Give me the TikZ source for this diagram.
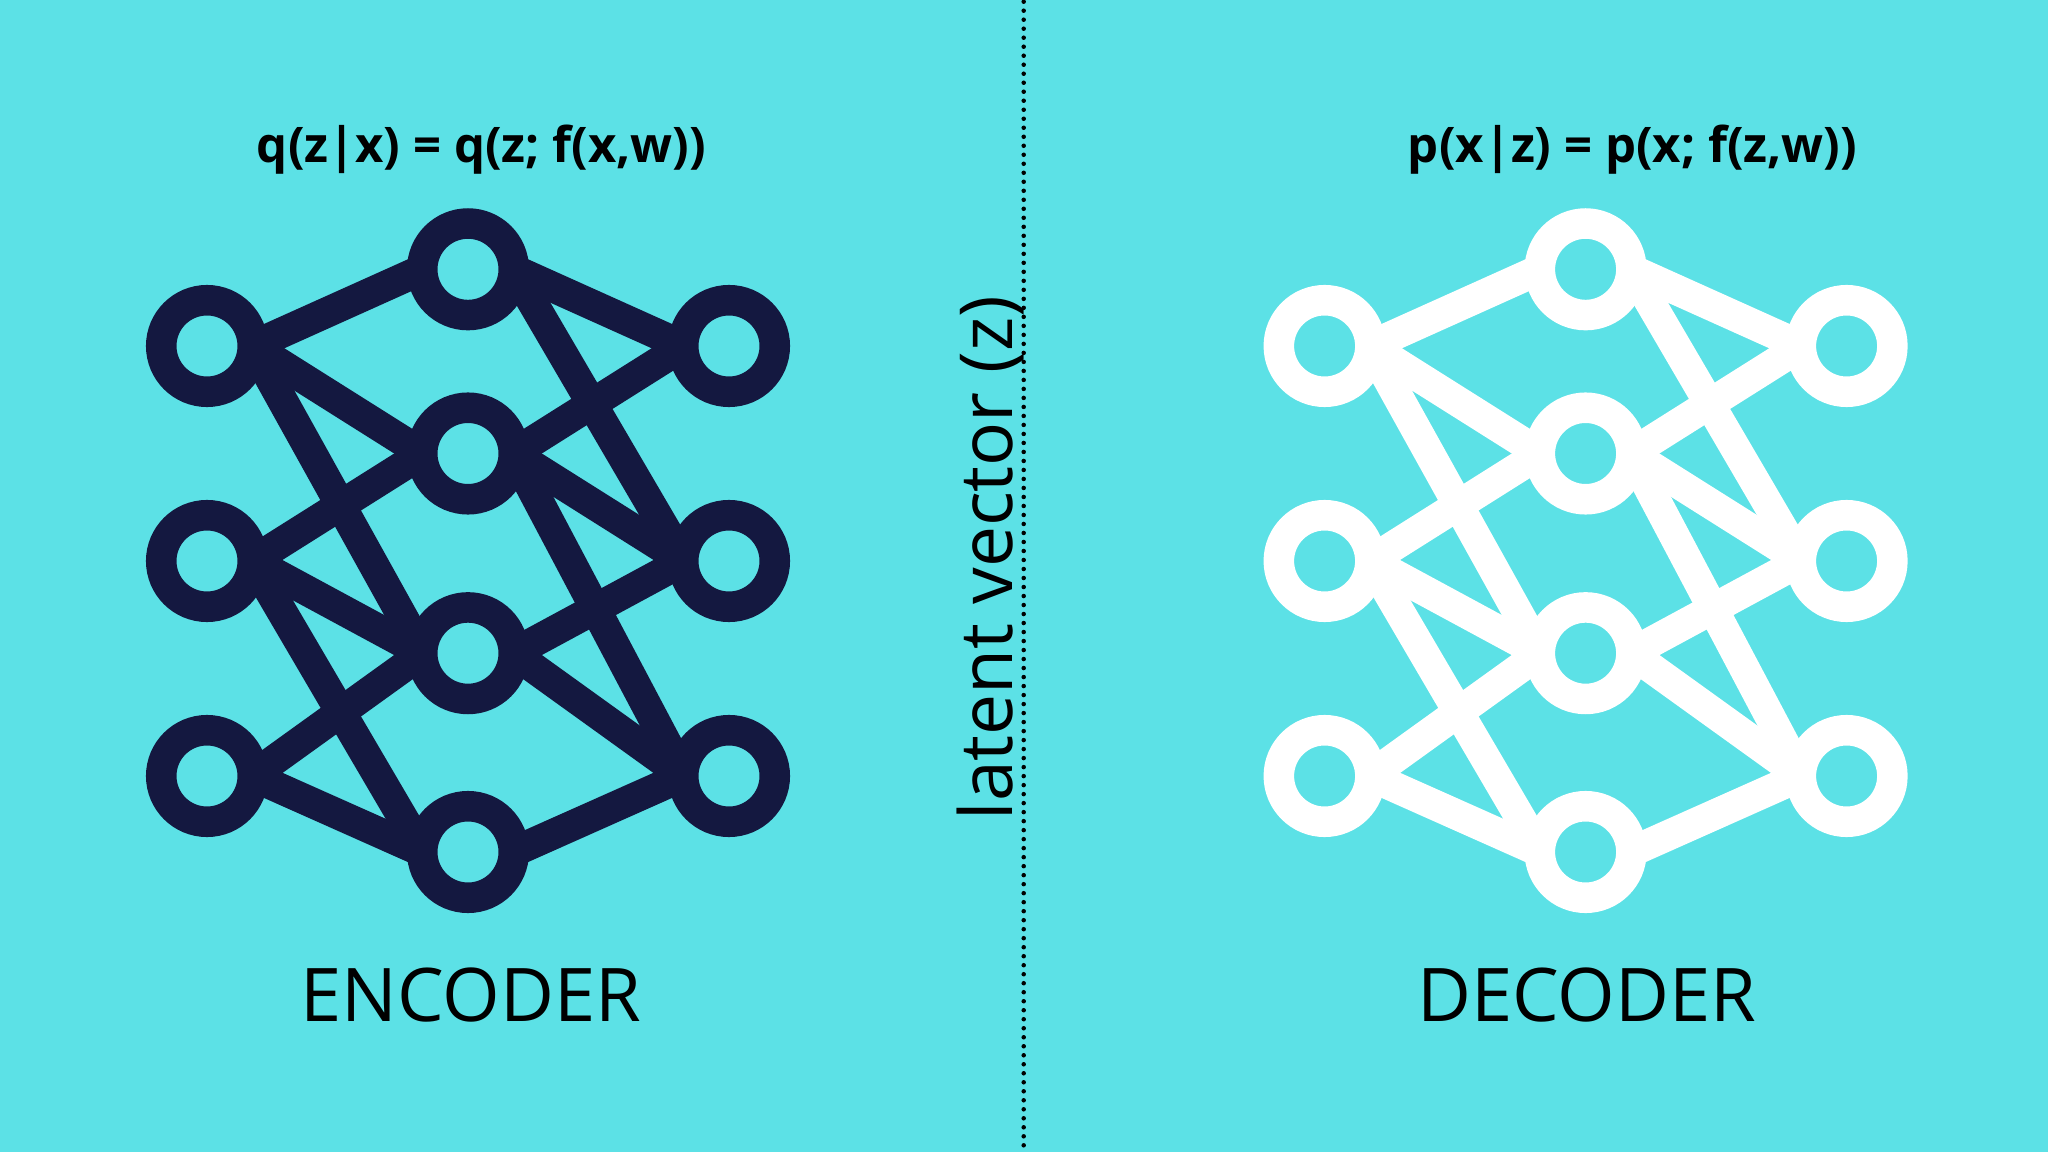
\documentclass[tikz,border=0pt]{standalone}
\usepackage{fontspec}
\setmainfont{Open Sans}
\usetikzlibrary{calc}
\definecolor{bgcyan}{HTML}{5CE1E6}
\definecolor{navy}{HTML}{141840}
\pgfdeclarelayer{bglayer}
\pgfdeclarelayer{edgelayer}
\pgfsetlayers{bglayer,edgelayer,main}
\newcommand\nnlink[3]{%
  \path ($(#1.center)!-0.265!(#2.center)$) coordinate (nnpa)
        ($(#2.center)!-0.265!(#1.center)$) coordinate (nnqa);
  \path (#1.center |- nnpa) coordinate (nnp) (#2.center |- nnqa) coordinate (nnq);
  \draw[link=#3] ($(nnp)!(#1.center)!(nnq)$) -- ($(nnp)!(#2.center)!(nnq)$);}
\begin{document}
\begin{tikzpicture}[x=0.01cm,y=-0.01cm,
  ring/.style={circle, draw=#1, fill=bgcyan, line width=0.305cm, minimum size=0.915cm, inner sep=0pt, outer sep=0pt},
  link/.style={draw=#1, line width=0.305cm},
  formula/.style={anchor=base, text=black, font=\bfseries\fontsize{13.95}{17}\selectfont},
  caption/.style={anchor=base, text=black, font=\fontsize{21.05}{25}\selectfont},
  dotline/.style={draw=black, line width=0.045cm, line cap=round, dash pattern=on 0pt off 0.09cm}]
\useasboundingbox (0,0) rectangle (2048,1152);
\begin{pgfonlayer}{bglayer}
\fill[bgcyan] (0,0) rectangle (2048,1152);
\end{pgfonlayer}
% encoder nodes
\node[ring=navy] (EL1) at (207,346) {};
\node[ring=navy] (EL2) at (207,561) {};
\node[ring=navy] (EL3) at (207,776) {};
\node[ring=navy] (EM1) at (468,269.3) {};
\node[ring=navy] (EM2) at (468,453.5) {};
\node[ring=navy] (EM3) at (468,653.2) {};
\node[ring=navy] (EM4) at (468,852) {};
\node[ring=navy] (ER1) at (729,346) {};
\node[ring=navy] (ER2) at (729,561) {};
\node[ring=navy] (ER3) at (729,776) {};
% decoder nodes
\node[ring=white] (DL1) at (1324.6,346) {};
\node[ring=white] (DL2) at (1324.6,561) {};
\node[ring=white] (DL3) at (1324.6,776) {};
\node[ring=white] (DM1) at (1585.6,269.3) {};
\node[ring=white] (DM2) at (1585.6,453.5) {};
\node[ring=white] (DM3) at (1585.6,653.2) {};
\node[ring=white] (DM4) at (1585.6,852) {};
\node[ring=white] (DR1) at (1846.6,346) {};
\node[ring=white] (DR2) at (1846.6,561) {};
\node[ring=white] (DR3) at (1846.6,776) {};
\begin{pgfonlayer}{edgelayer}
\foreach \p/\c in {E/navy,D/white}{
  \nnlink{\p L1}{\p M1}{\c}
  \nnlink{\p L1}{\p M2}{\c}
  \nnlink{\p L1}{\p M3}{\c}
  \nnlink{\p L2}{\p M2}{\c}
  \nnlink{\p L2}{\p M3}{\c}
  \nnlink{\p L2}{\p M4}{\c}
  \nnlink{\p L3}{\p M3}{\c}
  \nnlink{\p L3}{\p M4}{\c}
  \nnlink{\p M1}{\p R1}{\c}
  \nnlink{\p M2}{\p R1}{\c}
  \nnlink{\p M1}{\p R2}{\c}
  \nnlink{\p M2}{\p R2}{\c}
  \nnlink{\p M3}{\p R2}{\c}
  \nnlink{\p M2}{\p R3}{\c}
  \nnlink{\p M3}{\p R3}{\c}
  \nnlink{\p M4}{\p R3}{\c}
}
\end{pgfonlayer}
% formulas and captions
\node[formula] (eqenc) at (481.5,163) {q(z|x) = q(z; f(x,w))};
\node[formula] (eqdec) at (1632.5,163) {p(x|z) = p(x; f(z,w))};
\node[caption] (enc) at (471,1021) {ENCODER};
\node[caption] (dec) at (1587,1021) {DECODER};
% divider
\coordinate (divtop) at (1023.7,1.7);
\coordinate (divbot) at (1023.7,1152);
\draw[dotline] (divtop) -- (divbot);
\node[rotate=90, anchor=base, text=black, font=\fontsize{20.8}{25}\selectfont] (latent) at (1012,558) {latent vector (z)};
\end{tikzpicture}
\end{document}
